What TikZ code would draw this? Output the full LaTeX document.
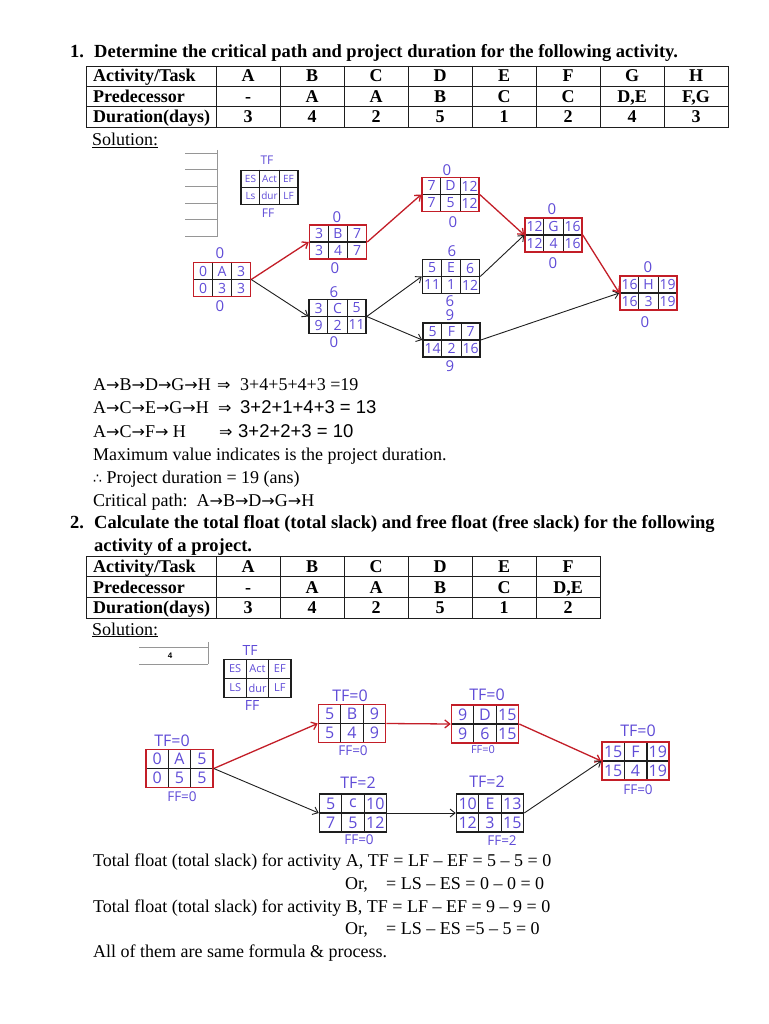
\documentclass[tikz,border=0pt]{standalone}
\usepackage{fontspec}
\setmainfont{Liberation Serif}
\newfontfamily\handfont{Open Sans}
\newfontfamily\arialfont{Liberation Sans}
\newfontfamily\djv{DejaVu Sans}
\usetikzlibrary{arrows.meta,calc}
\definecolor{handc}{RGB}{95,75,215}
\definecolor{critc}{RGB}{195,30,40}
\definecolor{inkc}{RGB}{30,30,30}
\definecolor{stubc}{RGB}{150,150,150}
\newcommand\ra{{\djv\fontsize{16}{16}\selectfont →}}
\newcommand\Ra{{\djv\fontsize{16}{16}\selectfont ⇒}}
\def\bw{57}\def\bh{34}\def\cfs{13}\def\nfs{15}
\tikzset{
  actbox/.style={minimum width=\bw pt, minimum height=\bh pt, inner sep=0pt, line width=1.5pt},
  cellline/.style={draw=inkc, line width=1.1pt},
  cell/.style={inner sep=0pt, text=handc, font=\handfont\fontsize{\cfs}{\cfs}\selectfont},
  note/.style={inner sep=0pt, text=handc, font=\handfont\fontsize{\nfs}{\nfs}\selectfont},
  small note/.style={inner sep=0pt, text=handc, font=\handfont\fontsize{13.5}{13.5}\selectfont},
  body/.style={anchor=base west, inner sep=0pt, font=\fontsize{18}{22}\selectfont},
  head/.style={anchor=base west, inner sep=0pt, font=\bfseries\fontsize{18.5}{22}\selectfont},
  tab/.style={draw=inkc, line width=0.9pt},
  tabt/.style={anchor=base, inner sep=0pt, font=\bfseries\fontsize{18}{18}\selectfont},
  crit/.style={draw=critc, line width=1.3pt, -{Straight Barb[length=5pt,width=8pt]}},
  norm/.style={draw=inkc, line width=0.9pt, -{Straight Barb[length=5pt,width=8pt]}},
  stub/.style={draw=stubc, line width=0.8pt}
}
\newcommand\abox[6]{%
  \node[actbox, draw=#4] (#1) at (#2,#3) {};
  \draw[cellline] ($(#1.north west)!0.333!(#1.north east)$) -- ($(#1.south west)!0.333!(#1.south east)$)
    ($(#1.north west)!0.667!(#1.north east)$) -- ($(#1.south west)!0.667!(#1.south east)$)
    (#1.west) -- (#1.east);
  \node[actbox, draw=#4] at (#1.center) {};
  \foreach \t [count=\i] in {#5} \node[cell] (#1-t\i) at ($(#1.center)+({(\i-2)*\bw/3},{-\bh/4})$) {\t};
  \foreach \t [count=\i] in {#6} \node[cell] (#1-b\i) at ($(#1.center)+({(\i-2)*\bw/3},{\bh/4})$) {\t};
}
\begin{document}
\begin{tikzpicture}[x=1pt,y=-1pt]
\fill[white] (0,0) rectangle (768,1024);
\useasboundingbox (0,0) rectangle (768,1024);

% ---------- Section 1 ----------
\node[head] (h1n) at (70,58) {1.};
\node[head] (h1) at (94,58) {Determine the critical path and project duration for the following activity.};

\draw[tab] (86,66) rectangle (728,127);
\draw[tab] (86,86.3) -- (728,86.3) (86,106.7) -- (728,106.7);
\foreach \x in {216,280,...,664} \draw[tab] (\x,66) -- (\x,127);
\node[tabt, anchor=base west] (t1r1) at (93,82) {Activity/Task};
\node[tabt, anchor=base west] (t1r2) at (93,102.5) {Predecessor};
\node[tabt, anchor=base west] (t1r3) at (93,123) {Duration(days)};
\foreach \t [count=\i] in {A,B,C,D,E,F,G,H} \node[tabt] (t1a\i) at ({184+64*\i},82) {\t};
\foreach \t [count=\i] in {-,A,A,B,C,C,{D,E},{F,G}} \node[tabt] (t1p\i) at ({184+64*\i},102.5) {\t};
\foreach \t [count=\i] in {3,4,2,5,1,2,4,3} \node[tabt] (t1d\i) at ({184+64*\i},123) {\t};
\node[body] (sol1) at (92,146) {\underline{Solution:}};

% stub lines
\foreach \y in {153,169,186,203,219,236} \draw[stub] (185,\y) -- (217,\y);
\draw[stub] (217,150) -- (217,237);

% legend
\def\cfs{10}\def\nfs{12}
\abox{leg1}{269.5}{187.5}{inkc}{ES,Act,EF}{Ls,dur,LF}
\node[note] (leg1tf) at (267,160) {TF};
\node[note] (leg1ff) at (268,213) {FF};

\def\cfs{14}\def\nfs{15}
\abox{A}{222}{279.5}{critc}{0,A,3}{0,3,3}
\abox{B}{338}{242}{critc}{3,B,7}{3,4,7}
\abox{C}{337.5}{316.5}{inkc}{3,C,5}{9,2,11}
\abox{D}{450.5}{194.5}{critc}{7,D,12}{7,5,12}
\abox{E}{451}{276.5}{inkc}{5,E,6}{11,1,12}
\abox{F}{451.5}{340}{inkc}{5,F,7}{14,2,16}
\abox{G}{553.5}{235}{critc}{12,G,16}{12,4,16}
\abox{H}{648.5}{293}{critc}{16,H,19}{16,3,19}

\node[note] (Atf) at (220,253) {0};  \node[note] (Aff) at (220,306) {0};
\node[note] (Btf) at (337,217) {0};  \node[note] (Bff) at (335,268) {0};
\node[note] (Ctf) at (334,292) {6};  \node[note] (Cff) at (334,342) {0};
\node[note] (Dtf) at (447,170) {0};  \node[note] (Dff) at (453,222) {0};
\node[note] (Etf) at (452,251) {6};  \node[note] (Eff) at (450,301) {6};
\node[note] (Ftf) at (450,315) {9};  \node[note] (Fff) at (450,366) {9};
\node[note] (Gtf) at (552,209) {0};  \node[note] (Gff) at (553,263) {0};
\node[note] (Htf) at (648,267) {0};  \node[note] (Hff) at (645,322) {0};

\draw[crit] (A.east) -- (B.west);
\draw[norm] (A.east) -- (C.west);
\draw[crit] (B.east) -- (D.west);
\draw[norm] (C.east) -- (E.west);
\draw[norm] (C.east) -- (F.west);
\draw[crit] (D.east) -- (G.west);
\draw[norm] (E.east) -- (G.west);
\draw[norm] (F.east) -- (H.west);
\draw[crit] (G.east) -- (H.west);

% text of solution 1
\node[body] (l1a) at (93,390) {A\ra B\ra D\ra G\ra H};
\node[body] (l1b) at (217,390) {\Ra};
\node[body] (l1c) at (240,390) {3+4+5+4+3 =19};
\node[body] (l2a) at (93,413) {A\ra C\ra E\ra G\ra H};
\node[body] (l2b) at (218,413) {\Ra};
\node[body, font=\arialfont\fontsize{18.5}{22}\selectfont] (l2c) at (240,413) {3+2+1+4+3 = 13};
\node[body] (l3a) at (93,437) {A\ra C\ra F\ra{} H};
\node[body] (l3b) at (219,437) {\Ra};
\node[body, font=\arialfont\fontsize{18.5}{22}\selectfont] (l3c) at (238,437) {3+2+2+3 = 10};
\node[body] (l4) at (93,460) {Maximum value indicates is the project duration.};
\node[body] (l5) at (93,483) {{\djv\fontsize{14}{14}\selectfont ∴} Project duration = 19 (ans)};
\node[body] (l6) at (93,506) {Critical path:\ \ A\ra B\ra D\ra G\ra H};

% ---------- Section 2 ----------
\node[head] (h2n) at (70,528) {2.};
\node[head] (h2) at (94,528) {Calculate the total float (total slack) and free float (free slack) for the following};
\node[head] (h2b) at (94,551) {activity of a project.};

\draw[tab] (86,556) rectangle (600,618);
\draw[tab] (86,576.7) -- (600,576.7) (86,597.3) -- (600,597.3);
\foreach \x in {216,280,...,536} \draw[tab] (\x,556) -- (\x,618);
\node[tabt, anchor=base west] (t2r1) at (93,572.3) {Activity/Task};
\node[tabt, anchor=base west] (t2r2) at (93,593) {Predecessor};
\node[tabt, anchor=base west] (t2r3) at (93,613.7) {Duration(days)};
\foreach \t [count=\i] in {A,B,C,D,E,F} \node[tabt] (t2a\i) at ({184+64*\i},572.3) {\t};
\foreach \t [count=\i] in {-,A,A,B,C,{D,E}} \node[tabt] (t2p\i) at ({184+64*\i},593) {\t};
\foreach \t [count=\i] in {3,4,2,5,1,2} \node[tabt] (t2d\i) at ({184+64*\i},613.7) {\t};
\node[body] (sol2) at (92,635) {\underline{Solution:}};

% stub of diagram 2
\draw[stub] (139,647) -- (208,647) (139,664) -- (208,664) (208,642) -- (208,664);
\node[inner sep=0pt, font=\arialfont\bfseries\fontsize{8}{8}\selectfont] (four) at (170,655.5) {4};

\def\bw{67}\def\bh{38}\def\cfs{11}\def\nfs{14}
\abox{leg2}{257.5}{678.5}{inkc}{ES,Act,EF}{LS,dur,LF}
\node[note] (leg2tf) at (250,650) {TF};
\node[note] (leg2ff) at (252,705) {FF};

\def\cfs{16}\def\nfs{16}
\abox{A2}{179.5}{768.5}{critc}{0,A,5}{0,5,5}
\abox{B2}{352}{723.5}{critc}{5,B,9}{5,4,9}
\abox{C2}{353}{813}{inkc}{5,c,10}{7,5,12}
\abox{D2}{485}{724}{critc}{9,D,15}{9,6,15}
\abox{E2}{490}{813}{inkc}{10,E,13}{12,3,15}
\abox{F2}{635.5}{761}{critc}{15,F,19}{15,4,19}

\node[note] (A2tf) at (172,741) {TF=0}; \node[small note] (A2ff) at (182,797) {FF=0};
\node[note] (B2tf) at (350,696) {TF=0}; \node[small note] (B2ff) at (353,751) {FF=0};
\node[note] (C2tf) at (358,783) {TF=2}; \node[small note] (C2ff) at (359,840) {FF=0};
\node[note] (D2tf) at (487,695) {TF=0}; \node[inner sep=0pt, text=handc, font=\handfont\fontsize{11}{11}\selectfont] (D2ff) at (483,750) {FF=0};
\node[note] (E2tf) at (487,782) {TF=2}; \node[small note] (E2ff) at (502,841) {FF=2};
\node[note] (F2tf) at (638,731) {TF=0}; \node[small note] (F2ff) at (638,790) {FF=0};

\draw[crit] (A2.east) -- (B2.west);
\draw[norm] (A2.east) -- (C2.west);
\draw[crit] (B2.east) -- (D2.west);
\draw[norm] (C2.east) -- (E2.west);
\draw[crit] (D2.east) -- (F2.west);
\draw[norm] (E2.east) -- (F2.west);

% text of solution 2
\node[body] (m1) at (93,866) {Total float (total slack) for activity A, TF = LF – EF = 5 – 5 = 0};
\node[body] (m2a) at (345,889) {Or,};
\node[body] (m2b) at (386,889) {= LS – ES = 0 – 0 = 0};
\node[body] (m3) at (93,912) {Total float (total slack) for activity B, TF = LF – EF = 9 – 9 = 0};
\node[body] (m4a) at (345,934) {Or,};
\node[body] (m4b) at (386,934) {= LS – ES =5 – 5 = 0};
\node[body] (m5) at (93,957) {All of them are same formula \& process.};
\end{tikzpicture}
\end{document}
